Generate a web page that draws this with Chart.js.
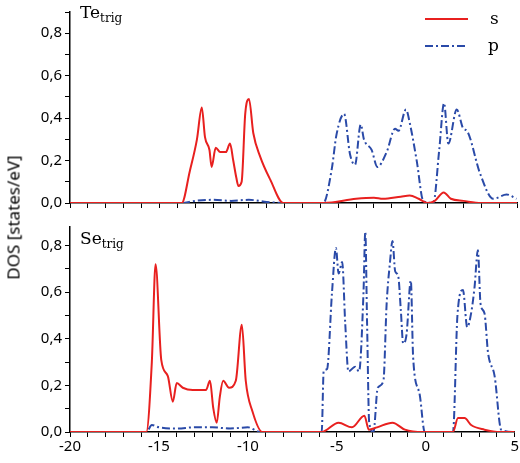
<!DOCTYPE html>
<html><head><meta charset="utf-8">
<script src="https://cdn.jsdelivr.net/npm/chart.js@4/dist/chart.umd.min.js"></script>
<style>
body{margin:0;background:#fff;width:520px;height:463px;position:relative;overflow:hidden;font-family:"Noto Sans",sans-serif}
canvas{position:absolute;left:0}
.lbl{position:absolute;font-family:"DejaVu Serif","Liberation Serif",serif;font-size:17px;color:#000}
.lbl sub{font-size:12px}
#ytitle{position:absolute;left:-72px;top:206px;width:170px;text-align:center;transform:rotate(-90deg);font-size:17px;font-family:"Noto Sans",sans-serif}
</style></head><body>
<canvas id="c1" width="520" height="215" style="top:0;width:520px;height:215px"></canvas>
<canvas id="c2" width="520" height="248" style="top:215px;width:520px;height:248px"></canvas>
<div class="lbl" style="left:80px;top:2px">Te<sub>trig</sub></div>
<div class="lbl" style="left:80px;top:228px">Se<sub>trig</sub></div>
<div id="ytitle">DOS [states/eV]</div>
<svg style="position:absolute;left:0;top:0" width="520" height="80">
<line x1="425" y1="19" x2="468" y2="19" stroke="#e8201f" stroke-width="2"/>
<line x1="425" y1="46" x2="468" y2="46" stroke="#2a4aa8" stroke-width="2" stroke-dasharray="8,3,2,3"/>
<text x="490" y="24" font-size="17" font-family="DejaVu Serif,serif">s</text>
<text x="488" y="51" font-size="17" font-family="DejaVu Serif,serif">p</text>
</svg>
<script>
const teS_x=[-20,-13.75,-13.3,-12.9,-12.63,-12.45,-12.2,-12.08,-11.85,-11.6,-11.28,-11.05,-10.87,-10.7,-10.58,-10.4,-10.2,-9.99,-9.75,-9.37,-8.8,-8.07,-5.8,-4,-3,-2.5,-1.5,-1,-0.5,0,0.4,0.9,1.3,2,3,5];
const teS_y=[0,0,0.15,0.3,0.45,0.31,0.25,0.17,0.26,0.24,0.24,0.28,0.20,0.12,0.08,0.10,0.42,0.49,0.33,0.22,0.11,0,0,0.02,0.025,0.02,0.03,0.035,0.02,0,0.01,0.05,0.02,0.01,0,0];
const teP_x=[-20,-13.8,-13,-12,-11,-10,-9,-8,-5.83,-5.36,-5.1,-4.67,-4.34,-4.06,-3.74,-3.56,-3.13,-2.81,-2.29,-1.82,-1.63,-1.21,-0.98,-0.61,-0.24,0.32,0.65,0.92,1.16,1.63,2.0,2.2,2.93,3.67,4.42,4.97];
const teP_y=[0,0,0.01,0.015,0.01,0.015,0.005,0,0,0.16,0.32,0.42,0.23,0.18,0.37,0.30,0.25,0.17,0.24,0.35,0.34,0.44,0.37,0.2,0.01,0,0.25,0.47,0.28,0.44,0.35,0.34,0.14,0.02,0.04,0.02];
const seS_x=[-20,-15.71,-15.4,-15.19,-14.87,-14.5,-14.22,-14.0,-13.66,-13.1,-12.36,-12.13,-11.95,-11.75,-11.58,-11.39,-11.06,-10.68,-10.34,-10.12,-9.75,-9.19,-5.85,-4.9,-4.15,-3.45,-3.2,-2.74,-1.87,-1.17,-0.15,1.53,1.81,2.18,2.55,3.3,4.2,5];
const seS_y=[0,0,0.3,0.72,0.31,0.24,0.13,0.21,0.19,0.18,0.18,0.22,0.105,0.04,0.15,0.22,0.19,0.22,0.46,0.22,0.09,0,0,0.04,0.02,0.07,0.01,0.02,0.04,0.01,0,0,0.06,0.06,0.03,0.01,0,0];
const seP_x=[-20,-15.7,-15.4,-15,-14,-13,-12,-11,-10,-9.3,-5.85,-5.74,-5.55,-5.27,-5.05,-4.9,-4.7,-4.53,-4.35,-3.97,-3.75,-3.5,-3.4,-3.3,-3.18,-2.94,-2.7,-2.38,-2.2,-2.01,-1.87,-1.72,-1.55,-1.4,-1.27,-1.08,-0.84,-0.71,-0.34,-0.06,1.53,1.78,2.09,2.33,2.55,2.74,2.93,3.08,3.3,3.5,3.87,4.24,5];
const seP_y=[0,0,0.03,0.02,0.015,0.02,0.02,0.015,0.02,0,0,0.26,0.27,0.6,0.79,0.68,0.73,0.47,0.26,0.28,0.26,0.6,0.86,0.47,0.04,0,0.19,0.22,0.55,0.73,0.82,0.69,0.67,0.52,0.38,0.42,0.65,0.32,0.16,0,0,0.5,0.61,0.45,0.51,0.62,0.78,0.55,0.51,0.34,0.24,0.01,0];
const xTickLabels=[-20,-15,-10,-5,0,5];

const RED='#e8201f',BLUE='#2a4aa8';
const pts=(xs,ys)=>xs.map((x,i)=>({x,y:ys[i]}));
function make(id,sx,sy,px,py,ymax,showX,padTop){
  return new Chart(document.getElementById(id),{
    type:'line',
    data:{datasets:[
      {data:pts(sx,sy),borderColor:RED,borderWidth:2,pointRadius:0,tension:0.25,cubicInterpolationMode:'monotone'},
      {data:pts(px,py),borderColor:BLUE,borderWidth:2,borderDash:[8,3,2,3],pointRadius:0,tension:0.25,cubicInterpolationMode:'monotone'}
    ]},
    options:{responsive:false,animation:false,devicePixelRatio:1,
      layout:{padding:{top:padTop,right:3,left:0,bottom:0}},
      plugins:{legend:{display:false},tooltip:{enabled:false}},
      scales:{
        x:{type:'linear',min:-20,max:5,
          afterBuildTicks:s=>{s.ticks=[];for(let v=-20;v<=5;v++)s.ticks.push({value:v});},
          afterFit:s=>{s.height=showX?31:8;},
          grid:{drawOnChartArea:false,tickLength:5,color:'#000'},
          border:{color:'#000',width:1.5},
          ticks:{display:showX,autoSkip:false,maxRotation:0,color:'#000',font:{size:15,family:'Noto Sans'},padding:1,
            callback:v=>xTickLabels.includes(v)?String(v):''}},
        y:{min:0,max:ymax,
          afterBuildTicks:s=>{s.ticks=[];for(let i=0;i<=Math.floor(ymax*10+1e-6);i++)s.ticks.push({value:i/10});},
          afterFit:s=>{s.width=70;},
          grid:{drawOnChartArea:false,tickLength:5,color:'#000'},
          border:{color:'#000',width:1.5},
          ticks:{autoSkip:false,color:'#000',font:{size:15,family:'Noto Sans'},padding:3,
            callback:v=>{const k=Math.round(v*10);return k%2===0?(k/10).toFixed(1).replace('.',','):'';}}}
      }}
  });
}
make('c1',teS_x,teS_y,teP_x,teP_y,0.9,false,1);
make('c2',seS_x,seS_y,seP_x,seP_y,0.88,true,6);
</script></body></html>
